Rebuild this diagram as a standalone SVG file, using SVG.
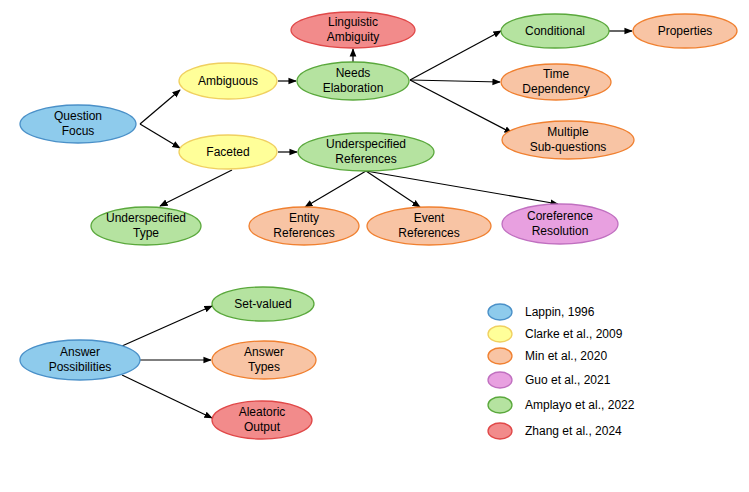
<svg xmlns="http://www.w3.org/2000/svg" width="749" height="492" viewBox="0 0 749 492">
<style>
text{font-family:"Liberation Sans",sans-serif;font-size:12px;text-anchor:middle;fill:#000}
.b{fill:#8ecbec;stroke:#4a90c8;stroke-width:1.3}
.y{fill:#ffff99;stroke:#f0d060;stroke-width:1.3}
.g{fill:#b5e3a0;stroke:#5aa83c;stroke-width:1.3}
.o{fill:#f8c4a4;stroke:#f08030;stroke-width:1.3}
.r{fill:#f28b8b;stroke:#e04848;stroke-width:1.3}
.p{fill:#e8a0e0;stroke:#c070c0;stroke-width:1.3}
.e line{stroke:#000;stroke-width:1.2;marker-end:url(#a)}
.l{text-anchor:start}
</style>
<defs><marker id="a" viewBox="0 0 10 10" refX="9" refY="5" markerWidth="7" markerHeight="7" orient="auto"><path d="M0,1L10,5L0,9z" fill="#000"/></marker></defs>
<g class="e" id="edges">
<line x1="140" y1="124" x2="180" y2="90"/>
<line x1="140" y1="124" x2="180" y2="148"/>
<line x1="278" y1="81" x2="296" y2="81"/>
<line x1="278" y1="152" x2="297" y2="152"/>
<line x1="353" y1="62" x2="353" y2="49"/>
<line x1="410" y1="80" x2="501" y2="31"/>
<line x1="609" y1="31" x2="632" y2="31"/>
<line x1="410" y1="80" x2="500" y2="82"/>
<line x1="410" y1="80" x2="512" y2="133"/>
<line x1="232" y1="170" x2="160" y2="206"/>
<line x1="366" y1="171" x2="305" y2="207"/>
<line x1="366" y1="171" x2="420" y2="207"/>
<line x1="366" y1="171" x2="558" y2="204"/>
<line x1="122" y1="346" x2="212" y2="306"/>
<line x1="140" y1="360" x2="211" y2="360"/>
<line x1="122" y1="375" x2="212" y2="418"/>
</g>
<g id="qf"><ellipse class="b" cx="78" cy="124" rx="58" ry="19"/><text x="78" y="120">Question</text><text x="78" y="135">Focus</text></g>
<g id="amb"><ellipse class="y" cx="228" cy="81" rx="49" ry="18"/><text x="228" y="85">Ambiguous</text></g>
<g id="fac"><ellipse class="y" cx="228" cy="152" rx="49" ry="17"/><text x="228" y="156">Faceted</text></g>
<g id="la"><ellipse class="r" cx="353" cy="30" rx="62" ry="18"/><text x="353" y="26">Linguistic</text><text x="353" y="41">Ambiguity</text></g>
<g id="ne"><ellipse class="g" cx="353" cy="81" rx="56" ry="19"/><text x="353" y="77">Needs</text><text x="353" y="92">Elaboration</text></g>
<g id="ur"><ellipse class="g" cx="366" cy="152" rx="68" ry="19"/><text x="366" y="148">Underspecified</text><text x="366" y="163">References</text></g>
<g id="cond"><ellipse class="g" cx="555" cy="31" rx="54" ry="17"/><text x="555" y="35">Conditional</text></g>
<g id="prop"><ellipse class="o" cx="685" cy="31" rx="52" ry="17"/><text x="685" y="35">Properties</text></g>
<g id="time"><ellipse class="o" cx="556" cy="82" rx="55" ry="18"/><text x="556" y="78">Time</text><text x="556" y="93">Dependency</text></g>
<g id="multi"><ellipse class="o" cx="568" cy="140" rx="66" ry="19"/><text x="568" y="136">Multiple</text><text x="568" y="151">Sub-questions</text></g>
<g id="utype"><ellipse class="g" cx="146" cy="226" rx="55" ry="19"/><text x="146" y="222">Underspecified</text><text x="146" y="237">Type</text></g>
<g id="ent"><ellipse class="o" cx="304" cy="226" rx="55" ry="19"/><text x="304" y="222">Entity</text><text x="304" y="237">References</text></g>
<g id="evt"><ellipse class="o" cx="429" cy="226" rx="62" ry="19"/><text x="429" y="222">Event</text><text x="429" y="237">References</text></g>
<g id="coref"><ellipse class="p" cx="560" cy="224" rx="58" ry="20"/><text x="560" y="220">Coreference</text><text x="560" y="235">Resolution</text></g>
<g id="ap"><ellipse class="b" cx="80" cy="360" rx="60" ry="20"/><text x="80" y="356">Answer</text><text x="80" y="371">Possibilities</text></g>
<g id="set"><ellipse class="g" cx="263" cy="304" rx="51" ry="17"/><text x="263" y="308">Set-valued</text></g>
<g id="at"><ellipse class="o" cx="264" cy="360" rx="52" ry="19"/><text x="264" y="356">Answer</text><text x="264" y="371">Types</text></g>
<g id="ale"><ellipse class="r" cx="262" cy="420" rx="50" ry="19"/><text x="262" y="416">Aleatoric</text><text x="262" y="431">Output</text></g>
<g id="legend">
<ellipse class="b" cx="500" cy="312" rx="12" ry="8"/><text class="l" x="525" y="316">Lappin, 1996</text>
<ellipse class="y" cx="500" cy="334" rx="12" ry="8"/><text class="l" x="525" y="338">Clarke et al., 2009</text>
<ellipse class="o" cx="500" cy="356" rx="12" ry="8"/><text class="l" x="525" y="360">Min et al., 2020</text>
<ellipse class="p" cx="500" cy="380" rx="12" ry="8"/><text class="l" x="525" y="384">Guo et al., 2021</text>
<ellipse class="g" cx="500" cy="405" rx="12" ry="8"/><text class="l" x="525" y="409">Amplayo et al., 2022</text>
<ellipse class="r" cx="500" cy="431" rx="12" ry="8"/><text class="l" x="525" y="435">Zhang et al., 2024</text>
</g>
</svg>
